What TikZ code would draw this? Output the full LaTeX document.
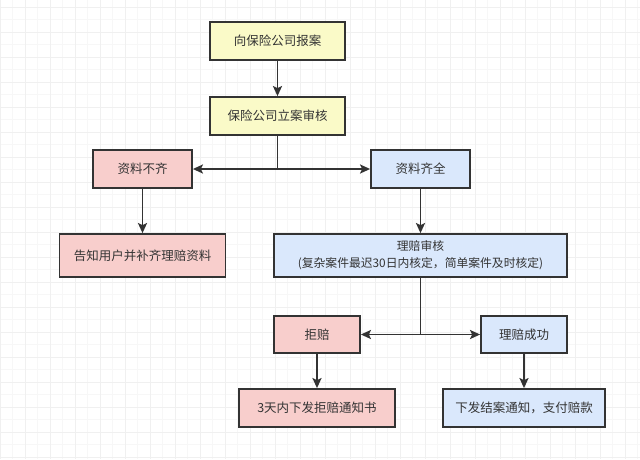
\documentclass[tikz,border=0pt]{standalone}
\usepackage{fontspec}
\setmainfont{Noto Sans CJK SC}
\usetikzlibrary{arrows.meta}
\definecolor{bordc}{HTML}{333333}
\definecolor{txtc}{HTML}{333333}
\definecolor{yellowf}{HTML}{FAFAC8}
\definecolor{pinkf}{HTML}{F8CECC}
\definecolor{bluef}{HTML}{DAE8FC}
\definecolor{gridfine}{HTML}{F7F7F7}
\definecolor{gridmain}{HTML}{F0F0F0}
\tikzset{
  box/.style={draw=bordc, line width=1.8pt, rectangle, align=center, text=txtc,
    font=\fontsize{12.5}{15}\selectfont, inner sep=0pt},
  ybox/.style={box, fill=yellowf},
  pbox/.style={box, fill=pinkf},
  bbox/.style={box, fill=bluef},
  conn/.style={draw=bordc, line width=1.8pt},
  arr/.style={conn, -{Stealth[length=10pt,width=9pt,inset=2pt]}}
}
\begin{document}
\begin{tikzpicture}[x=1pt,y=-1pt]
\useasboundingbox (0,0) rectangle (640,459);
\fill[white] (0,0) rectangle (640,459);
\foreach \i in {0,...,51} {\draw[gridfine, line width=0.6pt] (\i*12.5,0) -- (\i*12.5,459);}
\foreach \j in {0,...,37} {\draw[gridfine, line width=0.6pt] (0,\j*12.5+7) -- (640,\j*12.5+7);}
\foreach \i in {0,...,25} {\draw[gridmain, line width=0.8pt] (\i*25,0) -- (\i*25,459);}
\foreach \j in {0,...,18} {\draw[gridmain, line width=0.8pt] (0,\j*25+7) -- (640,\j*25+7);}

\node[ybox, minimum width=135pt, minimum height=38pt] (b1) at (277.5,41) {向保险公司报案};
\node[ybox, minimum width=135pt, minimum height=38pt] (b2) at (277.5,116) {保险公司立案审核};
\node[pbox, minimum width=99pt, minimum height=38pt] (nq) at (142.5,169) {资料不齐};
\node[bbox, minimum width=99pt, minimum height=38pt] (qq) at (420.5,169) {资料齐全};
\node[pbox, minimum width=166pt, minimum height=43pt] (gz) at (142.5,255.5) {告知用户并补齐理赔资料};
\node[bbox, minimum width=293pt, minimum height=43pt, font=\fontsize{11.8}{17}\selectfont] (lp) at (420.5,255.5) {理赔审核\\(复杂案件最迟30日内核定，简单案件及时核定)};
\node[pbox, minimum width=86pt, minimum height=37pt] (jp) at (317,334.5) {拒赔};
\node[bbox, minimum width=86pt, minimum height=37pt] (cg) at (524,334.5) {理赔成功};
\node[pbox, minimum width=156pt, minimum height=38pt] (tz) at (317,408) {3天内下发拒赔通知书};
\node[bbox, minimum width=162pt, minimum height=38pt] (xf) at (524,408) {下发结案通知，支付赔款};

\coordinate (j1) at (b2.south |- nq.east);
\coordinate (j2) at (lp.south |- jp.east);

\draw[arr] (b1) -- (b2);
\draw[conn] (b2.south) -- (j1);
\draw[arr] (j1) -- (nq.east);
\draw[arr] (j1) -- (qq.west);
\draw[arr] (nq) -- (gz);
\draw[arr] (qq) -- (lp);
\draw[conn] (lp.south) -- (j2);
\draw[arr] (j2) -- (jp.east);
\draw[arr] (j2) -- (cg.west);
\draw[arr] (jp) -- (tz);
\draw[arr] (cg) -- (xf);
\end{tikzpicture}
\end{document}
